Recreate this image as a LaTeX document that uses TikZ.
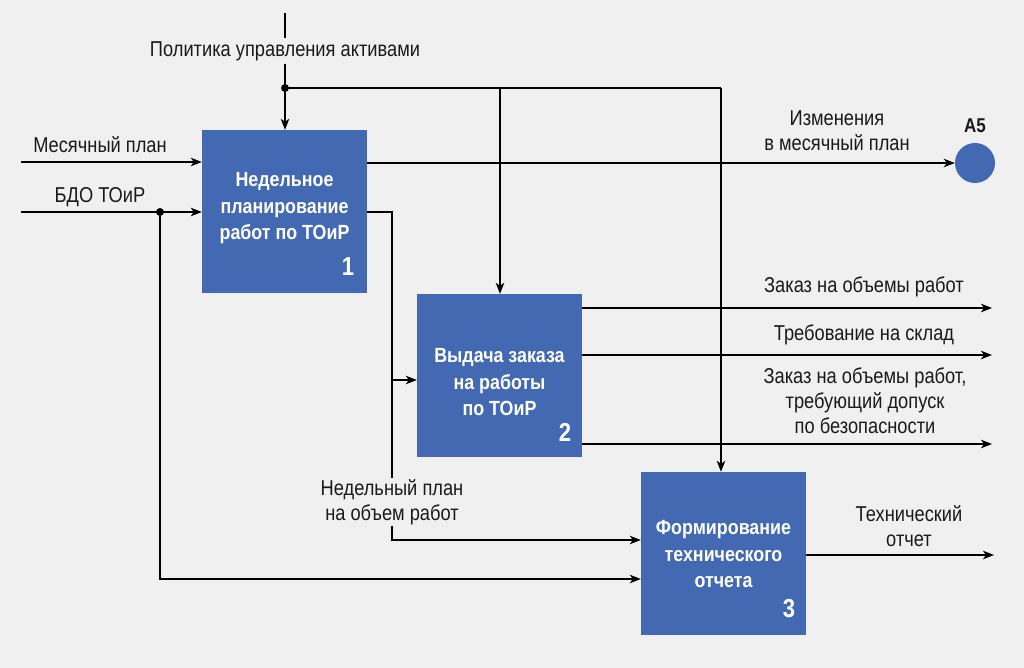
\documentclass[tikz,border=0pt]{standalone}
\usepackage{fontspec}
\setmainfont{Liberation Sans}[FakeStretch=0.85]
\newfontfamily\boxfont{Liberation Sans}[FakeStretch=0.87]
\usetikzlibrary{arrows.meta,calc}
\definecolor{bgc}{HTML}{F0F0F0}
\definecolor{boxc}{HTML}{4369B2}
\definecolor{txt}{HTML}{1A1A1A}
\begin{document}
\begin{tikzpicture}[x=1pt,y=-1pt,
  conn/.style={line width=1.5pt, draw=black},
  arr/.style={conn,-{Stealth[length=11pt,width=8.5pt,inset=3pt]}},
  box/.style={fill=boxc, draw=none, minimum width=165pt, minimum height=163pt, inner sep=0pt},
  btext/.style={text=white, font=\boxfont\bfseries\fontsize{20.5}{26.5}\selectfont, align=center},
  bnum/.style={text=white, font=\bfseries\fontsize{26}{26}\selectfont},
  lbl/.style={text=txt, font=\fontsize{21.5}{25}\selectfont, align=center, inner sep=1pt},
  dot/.style={circle, fill=black, minimum size=8pt, inner sep=0pt}
]
\fill[bgc] (0,0) rectangle (1024,668);
\useasboundingbox (0,0) rectangle (1024,668);

% boxes
\node[box] (b1) at (284.5,211.5) {};
\node[box] (b2) at (499.5,375.5) {};
\node[box] (b3) at (723.5,553.5) {};
\node[btext] (t1) at (284.5,208.5) {Недельное\\планирование\\работ по ТОиР};
\node[btext] (t2) at (499.5,382.5) {Выдача заказа\\на работы\\по ТОиР};
\node[btext] (t3) at (723.5,554) {Формирование\\технического\\отчета};
\node[bnum] (n1) at (348,267) {1};
\node[bnum] (n2) at (565,432) {2};
\node[bnum] (n3) at (789,609) {3};

% A5 circle
\node[circle, fill=boxc, minimum size=40pt, inner sep=0pt] (a5) at (975,163) {};
\node[font=\bfseries\fontsize{20}{20}\selectfont, text=txt] (a5l) at (975,126) {A5};

% control
\coordinate (ptop) at (285,13);
\node[lbl, inner sep=3pt] (pol) at (285,51) {Политика управления активами};
\coordinate (j1) at (285,88);
\coordinate (jc2) at (500,88);
\coordinate (jc3) at (721,88);
\draw[conn] (ptop) -- (pol);
\draw[conn] (pol) -- (j1);
\draw[arr] (j1) -- (j1 |- b1.north);
\draw[conn] (j1) -- (jc3);
\draw[arr] (jc2) -- (jc2 |- b2.north);
\draw[arr] (jc3) -- (jc3 |- b3.north);
\node[dot] (d1) at (j1) {};

% inputs
\coordinate (mIn) at (21,162);
\node[lbl] (mpl) at (100,145) {Месячный план};
\draw[arr] (mIn) -- (mIn -| b1.west);
\coordinate (bIn) at (21,212);
\node[lbl] (bdo) at (100,197) {БДО ТОиР};
\draw[arr] (bIn) -- (bIn -| b1.west);
\coordinate (j2) at (160,212);
\coordinate (j2b) at (160,579);
\draw[arr] (j2) -- (j2b) -- (j2b -| b3.west);
\node[dot] (d2) at (j2) {};

% box1 outputs
\draw[arr] (b1.east |- a5) -- (a5);
\node[lbl] (izm) at (837,131) {Изменения\\в месячный план};
\coordinate (c1) at (392,212);
\coordinate (c2) at (392,540);
\coordinate (c3) at (392,380);
\node[lbl] (ned) at (392,502) {Недельный план\\на объем работ};
\draw[conn] (b1.east |- c1) -- (c1) -- (ned);
\draw[arr] (ned) -- (c2) -- (c2 -| b3.west);
\draw[arr] (c3) -- (c3 -| b2.west);

% box2 outputs
\coordinate (e1) at (992,308);
\coordinate (e2) at (992,355);
\coordinate (e3) at (992,444);
\draw[arr] (e1 -| b2.east) -- (e1);
\draw[arr] (e2 -| b2.east) -- (e2);
\draw[arr] (e3 -| b2.east) -- (e3);
\node[lbl] (l1) at (864,287) {Заказ на объемы работ};
\node[lbl] (l2) at (864,335) {Требование на склад};
\node[lbl] (l3) at (865,401) {Заказ на объемы работ,\\требующий допуск\\по безопасности};

% box3 output
\coordinate (e4) at (994,555);
\draw[arr] (e4 -| b3.east) -- (e4);
\node[lbl] (l4) at (909,526) {Технический\\отчет};
\end{tikzpicture}
\end{document}
